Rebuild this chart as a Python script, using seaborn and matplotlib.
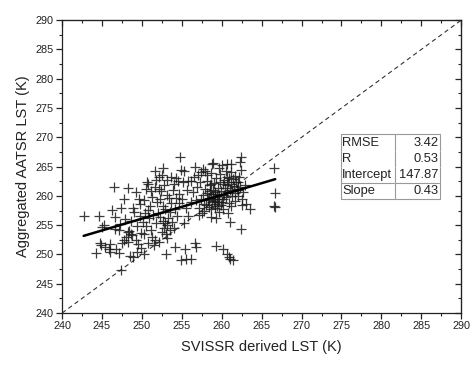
import numpy as np
import pandas as pd
import seaborn as sns
import matplotlib.pyplot as plt
from matplotlib.ticker import MultipleLocator

# SVISSR derived LST (x) vs aggregated AATSR LST (y)
svissr_lst = [
    242.7, 244.6, 245.2, 245.0, 244.2, 244.7, 244.9, 245.4, 246.0, 246.0, 245.9,
    246.5, 246.2, 246.6, 246.6, 247.1, 246.8, 247.1, 247.7, 247.4, 247.4, 247.7, 247.5, 248.0, 247.9, 247.2,
    248.2, 248.4, 248.6, 248.3, 248.8, 248.6, 249.0, 248.5, 248.9, 249.4, 249.2, 249.6, 249.8, 249.5, 249.9,
    248.3, 249.2, 249.7, 249.4, 248.9, 249.9,
    250.2, 250.2, 250.5, 250.1, 250.6, 250.8, 250.5, 251.1, 251.3, 251.0, 250.8, 251.3, 251.6, 251.5, 251.7,
    250.4, 250.9, 251.4, 251.8, 251.2, 251.9, 251.6, 250.3, 251.8, 250.7,
    252.2, 252.5, 252.6, 252.1, 252.4, 252.8, 252.0, 252.3, 252.6, 252.9, 253.1, 253.0, 253.2, 253.0, 253.4,
    253.7, 253.5, 252.3, 252.7, 253.2, 253.6, 252.5, 252.8, 253.3, 253.8, 252.2, 253.9, 253.5, 252.9, 253.1,
    254.0, 254.3, 254.5, 254.1, 254.9, 254.8, 254.9, 255.3, 255.0, 255.5, 255.3, 255.4, 255.5, 254.2, 254.4,
    254.6, 255.2, 255.7, 254.0, 254.7, 255.8, 254.3,
    255.8, 256.2, 256.6, 256.1, 256.6, 256.8, 257.0, 257.4, 257.7, 257.9, 256.8, 257.2, 257.5, 257.8, 256.4,
    256.9, 257.3, 257.6, 256.2, 257.1, 257.9, 256.5, 257.4, 257.8,
    258.9, 258.8, 259.6, 258.2, 258.5, 258.7, 258.9, 259.0, 259.2, 259.4, 259.1, 258.4, 258.6, 258.3, 259.5,
    259.8, 259.3, 258.1, 259.7, 259.9, 259.3, 258.8, 259.1, 259.6, 258.5, 259.0, 258.6, 259.8, 259.3, 258.0,
    259.5, 258.2, 259.9, 258.7, 258.4, 259.2, 259.7, 258.9, 259.4, 258.6, 259.1, 260.0,
    260.0, 260.6, 261.2, 260.1, 260.6, 260.9, 261.4, 261.0, 261.0, 260.3, 260.6, 260.8, 261.1, 260.4, 260.7,
    261.3, 260.2, 260.9, 261.5, 261.8, 261.6, 260.5, 261.2, 261.7, 260.1, 261.9, 260.3, 261.4, 260.8, 261.1,
    260.5, 261.0, 260.2, 261.6, 260.7, 261.3, 262.1, 260.9,
    262.4, 262.3, 262.4, 263.0, 263.5, 262.1, 262.3, 262.0, 262.5, 262.7, 262.2, 262.6, 262.9, 262.4,
    266.5, 266.7, 266.5, 266.7,
]
aatsr_lst = [
    256.5, 256.5, 255.0, 254.7, 250.3, 252.0, 251.7, 251.2, 250.4, 251.8, 250.9,
    261.6, 257.6, 256.4, 254.4, 254.1, 250.9, 250.2, 259.5, 257.9, 247.3, 252.4, 251.9, 253.0, 256.1, 255.2,
    261.4, 254.0, 253.5, 253.8, 253.3, 255.8, 257.3, 249.8, 249.6, 250.4, 260.6, 259.5, 258.6, 251.8, 251.1,
    252.2, 252.5, 256.5, 254.9, 258.0, 253.7,
    250.0, 253.5, 254.8, 255.6, 262.3, 262.0, 261.2, 260.8, 259.8, 258.2, 257.6, 253.0, 252.5, 251.7, 264.2,
    257.0, 256.2, 256.7, 255.3, 254.2, 258.9, 261.5, 259.3, 262.7, 251.9,
    263.2, 263.6, 264.8, 261.2, 260.8, 261.9, 257.0, 256.4, 255.8, 255.4, 255.0, 253.5, 252.8, 250.1, 259.7,
    258.8, 257.2, 259.5, 258.3, 262.7, 263.3, 253.9, 254.6, 256.3, 255.6, 252.2, 261.0, 254.2, 257.8, 260.2,
    262.0, 263.0, 262.5, 251.2, 249.1, 266.7, 264.5, 264.2, 259.5, 258.0, 255.4, 251.0, 249.3, 257.8, 256.6,
    260.4, 262.4, 261.0, 254.5, 258.8, 256.5, 259.6,
    262.6, 262.5, 265.0, 249.3, 251.9, 251.3, 263.6, 264.1, 264.6, 264.3, 259.3, 258.0, 257.1, 258.6, 260.6,
    261.6, 262.3, 260.2, 258.9, 256.7, 261.1, 263.2, 259.5, 257.4,
    265.7, 265.4, 264.8, 262.6, 261.8, 260.4, 259.8, 259.2, 258.6, 259.9, 260.7, 258.1, 257.7, 259.3, 261.4,
    262.3, 263.1, 263.5, 257.3, 258.5, 256.3, 258.9, 259.5, 260.1, 260.9, 262.2, 263.9, 263.7, 251.5, 258.4,
    259.0, 260.5, 260.8, 256.4, 259.6, 260.3, 259.4, 261.0, 258.2, 262.0, 257.9, 259.0,
    265.3, 265.4, 265.5, 251.0, 250.0, 249.6, 249.1, 249.3, 255.5, 262.7, 263.2, 262.4, 262.0, 261.3, 260.6,
    259.9, 259.4, 258.8, 261.7, 262.4, 263.4, 264.2, 258.3, 260.5, 257.7, 261.2, 260.1, 262.9, 257.1, 264.0,
    259.8, 261.0, 262.1, 259.1, 261.8, 260.8, 261.0, 263.0,
    266.6, 265.8, 254.3, 258.7, 257.7, 262.4, 261.5, 259.9, 259.4, 260.7, 263.2, 258.5, 261.9, 264.5,
    264.7, 260.5, 258.2, 258.1,
]

stat_names = ['RMSE', 'R', 'Intercept', 'Slope']
stat_values = ['3.42', '0.53', '147.87', '0.43']

axis_limits = [240, 290]

df = pd.DataFrame({'svissr': svissr_lst, 'aatsr': aatsr_lst})

sns.set_style('ticks')
plt.rcParams['font.family'] = ['Liberation Sans', 'DejaVu Sans']

fig = plt.figure(figsize=(4.74, 3.67), dpi=100)
ax = fig.add_axes([0.131, 0.147, 0.842, 0.798])

# 1:1 line
ax.plot(axis_limits, axis_limits, color='#333333', lw=0.8, ls=(0, (4, 3)), zorder=1)

sns.regplot(data=df, x='svissr', y='aatsr', ax=ax, ci=None, marker='+',
            scatter_kws={'s': 60, 'color': '#1a1a1a', 'linewidths': 0.9, 'alpha': 0.85},
            line_kws={'color': 'black', 'lw': 1.8})

ax.set_xlim(axis_limits)
ax.set_ylim(axis_limits)
ax.xaxis.set_major_locator(MultipleLocator(5))
ax.yaxis.set_major_locator(MultipleLocator(5))
ax.xaxis.set_minor_locator(MultipleLocator(2.5))
ax.yaxis.set_minor_locator(MultipleLocator(2.5))
ax.tick_params(which='major', direction='out', length=4, width=0.9, labelsize=7.8,
               colors='#222222', pad=2)
ax.tick_params(which='minor', direction='out', length=2.5, width=0.8)
for s in ax.spines.values():
    s.set_visible(True)
    s.set_linewidth(0.9)
    s.set_color('#222222')

# mirrored inward ticks on top and right
top = ax.secondary_xaxis('top')
top.xaxis.set_major_locator(MultipleLocator(5))
top.xaxis.set_minor_locator(MultipleLocator(2.5))
top.tick_params(which='major', direction='in', length=4, width=0.9, labeltop=False)
top.tick_params(which='minor', direction='in', length=2.5, width=0.8)
right = ax.secondary_yaxis('right')
right.yaxis.set_major_locator(MultipleLocator(5))
right.yaxis.set_minor_locator(MultipleLocator(2.5))
right.tick_params(which='major', direction='in', length=4, width=0.9, labelright=False)
right.tick_params(which='minor', direction='in', length=2.5, width=0.8)

ax.set_xlabel('SVISSR derived LST (K)', fontsize=10.5, color='#222222', labelpad=6)
ax.set_ylabel('Aggregated AATSR LST (K)', fontsize=10.5, color='#222222', labelpad=4)

# statistics table
cells = [[n, v] for n, v in zip(stat_names, stat_values)]
tbl = ax.table(cellText=cells, cellLoc='left', colWidths=[0.55, 0.45],
               bbox=[0.698, 0.388, 0.248, 0.222])
tbl.auto_set_font_size(False)
tbl.set_fontsize(9.3)
for (r, c), cell in tbl.get_celld().items():
    edges = ''
    if r == 0:
        edges += 'T'
    if r in (2, 3):
        edges += 'B'
    edges += 'L' if c == 0 else 'R'
    if c == 0:
        edges += 'R'
    cell.visible_edges = edges
    cell.set_edgecolor('#999999')
    cell.set_linewidth(0.8)
    cell.PAD = 0.03
    cell.get_text().set_color('#222222')
    if c == 1:
        cell.get_text().set_ha('right')
        cell._loc = 'right'

fig.savefig('out.png', dpi=100)
